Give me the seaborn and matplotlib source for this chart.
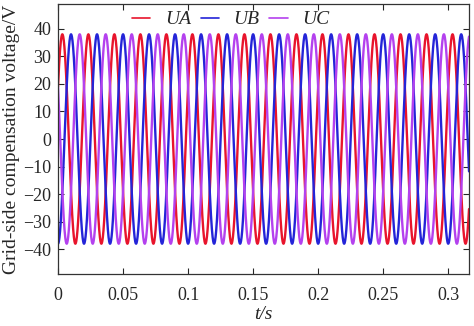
import numpy as np
import pandas as pd
import matplotlib
matplotlib.use("Agg")
import matplotlib.pyplot as plt
import seaborn as sns

# Data: three-phase grid-side compensation voltages (sinusoid parameters)
series = ["UA", "UB", "UC"]
amplitude = [38.0, 38.0, 38.0]          # V
frequency = [50.0, 50.0, 50.0]          # Hz
phase_deg = [30.0, -90.0, 150.0]        # degrees
colors = ["#e8142c", "#2424d8", "#b441ee"]
x_ticks = [0, 0.05, 0.1, 0.15, 0.2, 0.25, 0.3]
x_tick_labels = ["0", "0.05", "0.1", "0.15", "0.2", "0.25", "0.3"]
y_ticks = [-40, -30, -20, -10, 0, 10, 20, 30, 40]
t_end = 0.316

t = np.linspace(0, t_end, 4000)
frames = []
for name, a, f, p in zip(series, amplitude, frequency, phase_deg):
    frames.append(pd.DataFrame({"t": t, "v": a * np.sin(2 * np.pi * f * t + np.deg2rad(p)), "phase": name}))
df = pd.concat(frames, ignore_index=True)

sns.set_style("ticks")
plt.rcParams["font.family"] = ["Liberation Serif", "DejaVu Serif"]

fig = plt.figure(figsize=(4.74, 3.26), dpi=100)
ax = fig.add_axes([0.1224, 0.1595, 0.8671, 0.8282])
sns.lineplot(data=df, x="t", y="v", hue="phase", palette=colors, linewidth=1.7,
             ax=ax, legend=True, estimator=None, sort=False)

ax.set_xlim(0, t_end)
ax.set_ylim(-49, 49)
ax.set_xticks(x_ticks)
ax.set_xticklabels(x_tick_labels)
ax.set_yticks(y_ticks)
ax.tick_params(direction="in", top=True, right=True, labelsize=13, length=4, width=0.8)
ax.tick_params(axis="x", pad=9)
ax.tick_params(axis="y", pad=5)
for s in ax.spines.values():
    s.set_visible(True)
    s.set_linewidth(0.9)
    s.set_color("#333333")
ax.set_xlabel("t/s", fontsize=14, style="italic", labelpad=2)
ax.set_ylabel("Grid-side compensation voltage/V", fontsize=14, labelpad=2)

handles, labels = ax.get_legend_handles_labels()
leg = ax.legend(handles, labels, loc="upper center", bbox_to_anchor=(0.42, 1.04), ncol=3,
                frameon=False, handlelength=0.95, columnspacing=0.5, handletextpad=0.75,
                prop={"family": "Liberation Serif", "style": "italic", "size": 14})
for h in leg.get_lines():
    h.set_linewidth(1.2)

fig.savefig("out.png", dpi=100)
